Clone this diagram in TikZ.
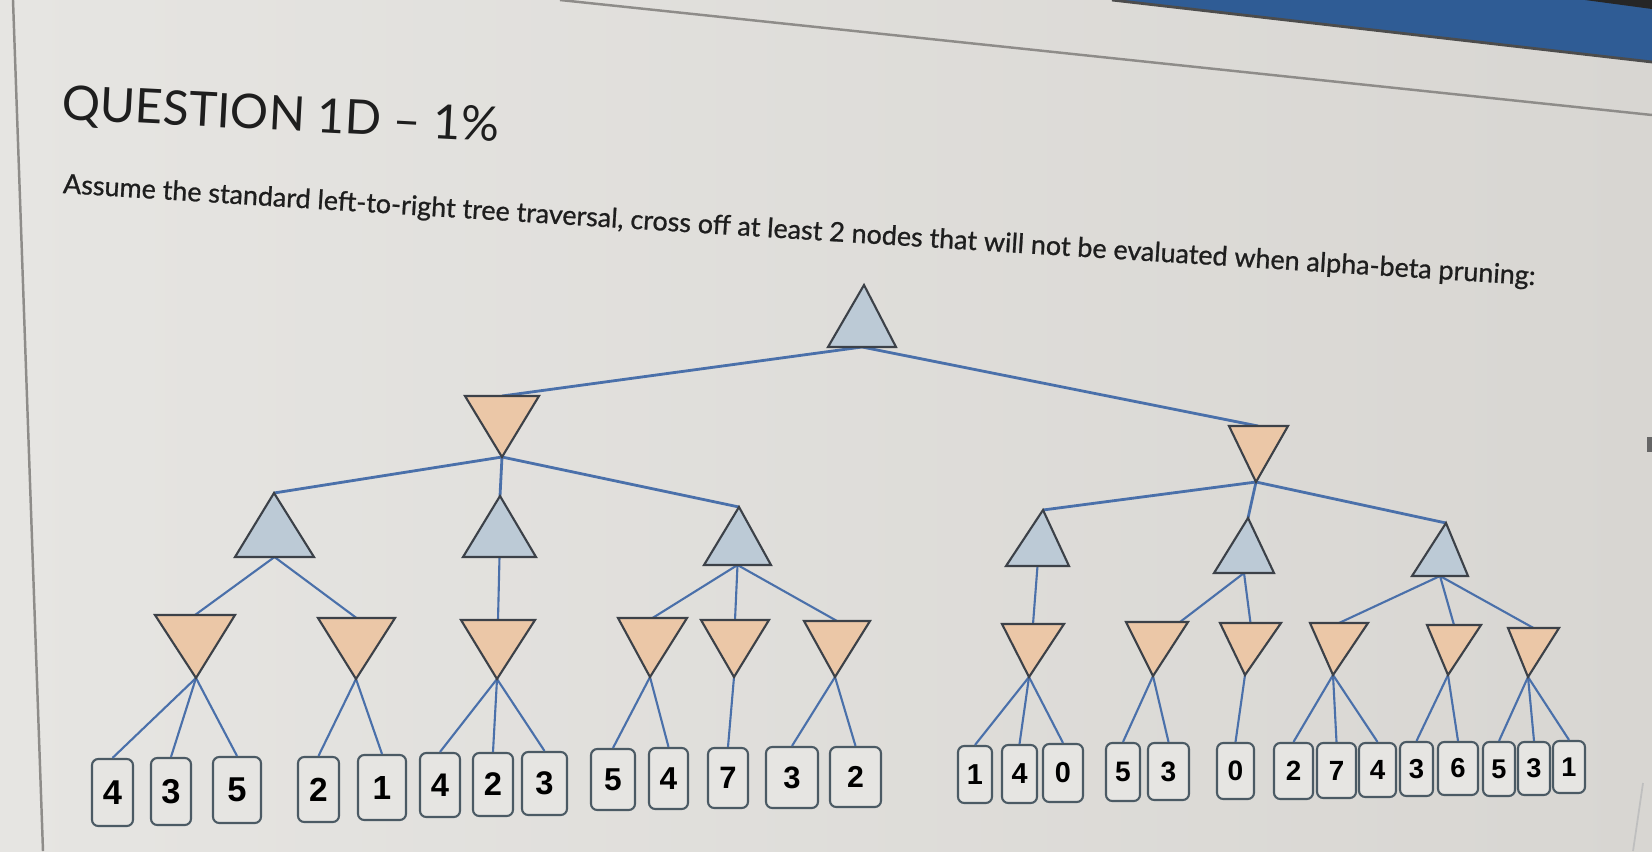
\documentclass[tikz,border=0pt]{standalone}
\usepackage{fontspec}
\usepackage{graphicx}
\newfontfamily\lato{Lato}
\newfontfamily\latosemi{Lato}[FakeBold=0.9]
\newfontfamily\digitfont{Liberation Sans}
\definecolor{bgL}{HTML}{E6E5E2}
\definecolor{bgR}{HTML}{D8D6D2}
\definecolor{edgeblue}{HTML}{4A70AA}
\definecolor{triline}{HTML}{3C4148}
\definecolor{maxfill}{HTML}{BCCAD6}
\definecolor{minfill}{HTML}{EBC7A7}
\definecolor{leafline}{HTML}{4B5A64}
\definecolor{leaffill}{HTML}{E6E5E2}
\definecolor{inktext}{HTML}{1E1E1E}
\definecolor{screenblue}{HTML}{2F5C95}
\definecolor{rimgray}{HTML}{8E8C89}
\tikzset{
  maxst/.style={draw=triline, fill=maxfill, line width=0.6pt, line join=miter},
  minst/.style={draw=triline, fill=minfill, line width=0.6pt, line join=miter},
  eup/.style={draw=edgeblue, line width=0.8pt},
  elow/.style={draw=edgeblue, line width=0.6pt},
  leafst/.style={draw=leafline, fill=leaffill, line width=0.6pt, rounded corners=1.8pt,
    inner sep=0pt, text=black, font=\digitfont\bfseries},
}
% name, apex x, apex y, base left x, base right x, base y
\newcommand\maxtri[6]{%
  \draw[maxst] (#2,#3) -- (#4,#6) -- (#5,#6) -- cycle;
}
% name, top left x, top right x, top y, apex x, apex y
\newcommand\mintri[6]{%
  \draw[minst] (#2,#4) -- (#3,#4) -- (#5,#6) -- cycle;
}
% name, x1, x2, y1, y2, font size, text
\newcommand\leafbox[7]{%
  \node[leafst, minimum width={(#3-#2)*0.1mm}, minimum height={(#5-#4)*0.1mm},
    font=\digitfont\bfseries\fontsize{#6}{#6}\selectfont]
    (#1) at ({(#2+#3)/2},{(#4+#5)/2}) {#7};
}
\begin{document}
\begin{tikzpicture}[x=0.01cm, y=-0.01cm]
\useasboundingbox (0,0) rectangle (1652,851);
\shade[left color=bgL, right color=bgR] (0,0) rectangle (1652,851);
% screen artefacts
\fill[screenblue] (1112,0) -- (1652,0) -- (1652,62) -- cycle;
\fill[black!85] (1585,0) -- (1652,0) -- (1652,9) -- cycle;
\draw[draw=black!70, line width=0.8pt] (1112,0) -- (1652,62);
\draw[draw=rimgray, line width=0.7pt] (560,0) -- (1652,115);
\draw[draw=rimgray, line width=0.7pt] (13,0) -- (43,851);
\fill[black!60] (1647,437) rectangle (1652,452);
\draw[draw=black!25, line width=0.5pt] (1643,783) -- (1633,851);

% texts
\node[anchor=base west, inner sep=0, rotate=-3, text=inktext] (title) at (61,119)
  {\resizebox{4.37cm}{!}{\lato QUESTION 1D – 1\%}};
\node[anchor=base west, inner sep=0, rotate=-3.58, text=inktext] (subtitle) at (62,193)
  {\resizebox{14.74cm}{!}{\latosemi Assume the standard left-to-right tree traversal, cross off at least 2 nodes that will not be evaluated when alpha-beta pruning:}};

% connection points of the tree shapes (shapes drawn after the connectors)
\coordinate (root-t) at (864,285); \coordinate (root-b) at (862,347);
\coordinate (L-t) at (502,396); \coordinate (L-b) at (502,457);
\coordinate (R-t) at (1258,426); \coordinate (R-b) at (1256,482);
\coordinate (a1-t) at (274,493); \coordinate (a1-b) at (274.5,557);
\coordinate (a2-t) at (500,496); \coordinate (a2-b) at (499.5,557);
\coordinate (a3-t) at (739,507); \coordinate (a3-b) at (737.5,565);
\coordinate (b1-t) at (1043,510); \coordinate (b1-b) at (1037.5,566);
\coordinate (b2-t) at (1248,518); \coordinate (b2-b) at (1244,573);
\coordinate (b3-t) at (1446,523); \coordinate (b3-b) at (1440,576);
\coordinate (m1-t) at (195,615); \coordinate (m1-b) at (196,678);
\coordinate (m2-t) at (356.5,618); \coordinate (m2-b) at (356,679);
\coordinate (m3-t) at (498,620); \coordinate (m3-b) at (497,679);
\coordinate (m4-t) at (652.5,618); \coordinate (m4-b) at (650,677);
\coordinate (m5-t) at (735,620); \coordinate (m5-b) at (734,677);
\coordinate (m6-t) at (837,621); \coordinate (m6-b) at (835,677);
\coordinate (n1-t) at (1033,624); \coordinate (n1-b) at (1029,677);
\coordinate (n2-t) at (1180,622); \coordinate (n2-b) at (1153,676);
\coordinate (n3-t) at (1250.5,623); \coordinate (n3-b) at (1245,675);
\coordinate (n4-t) at (1339,623); \coordinate (n4-b) at (1333,675);
\coordinate (n5-t) at (1454,625); \coordinate (n5-b) at (1448,675);
\coordinate (n6-t) at (1533.5,628); \coordinate (n6-b) at (1528,677);

% leaves
\leafbox{l1}{92}{133}{759}{826}{9.8pt}{4}
\leafbox{l2}{151}{191}{758}{825}{9.8pt}{3}
\leafbox{l3}{213}{261}{757}{823}{9.8pt}{5}
\leafbox{l4}{298}{339}{757}{822}{9.5pt}{2}
\leafbox{l5}{358}{406}{755}{820}{9.5pt}{1}
\leafbox{l6}{420}{460}{753}{817}{9.3pt}{4}
\leafbox{l7}{473}{513}{753}{816}{9.3pt}{2}
\leafbox{l8}{522}{567}{752}{815}{9.3pt}{3}
\leafbox{l9}{591}{635}{749}{810}{9pt}{5}
\leafbox{l10}{649}{688}{748}{809}{9pt}{4}
\leafbox{l11}{708}{748}{748}{808}{8.8pt}{7}
\leafbox{l12}{766}{818}{747}{808}{8.8pt}{3}
\leafbox{l13}{830}{881}{747}{807}{8.6pt}{2}
\leafbox{r1}{958}{992}{746}{803}{8.2pt}{1}
\leafbox{r2}{1002}{1037}{745}{803}{8.2pt}{4}
\leafbox{r3}{1043}{1083}{744}{802}{8.2pt}{0}
\leafbox{r4}{1106}{1140}{743}{801}{8pt}{5}
\leafbox{r5}{1148}{1189}{743}{800}{8pt}{3}
\leafbox{r6}{1217}{1254}{743}{799}{8pt}{0}
\leafbox{r7}{1274}{1313}{743}{799}{7.9pt}{2}
\leafbox{r8}{1317}{1356}{743}{798}{7.9pt}{7}
\leafbox{r9}{1359}{1396}{743}{797}{7.9pt}{4}
\leafbox{r10}{1400}{1433}{742}{796}{7.8pt}{3}
\leafbox{r11}{1438}{1478}{742}{795}{7.8pt}{6}
\leafbox{r12}{1483}{1515}{742}{796}{7.7pt}{5}
\leafbox{r13}{1518}{1550}{742}{795}{7.7pt}{3}
\leafbox{r14}{1553}{1585}{741}{793}{7.7pt}{1}

% connectors
\draw[eup] (root-b) -- (L-t);
\draw[eup] (root-b) -- (R-t);
\draw[eup] (L-b) -- (a1-t);
\draw[eup] (L-b) -- (a2-t);
\draw[eup] (L-b) -- (a3-t);
\draw[eup] (R-b) -- (b1-t);
\draw[eup] (R-b) -- (b2-t);
\draw[eup] (R-b) -- (b3-t);
\draw[elow] (a1-b) -- (m1-t);
\draw[elow] (a1-b) -- (m2-t);
\draw[elow] (a2-b) -- (m3-t);
\draw[elow] (a3-b) -- (m4-t);
\draw[elow] (a3-b) -- (m5-t);
\draw[elow] (a3-b) -- (m6-t);
\draw[elow] (b1-b) -- (n1-t);
\draw[elow] (b2-b) -- (n2-t);
\draw[elow] (b2-b) -- (n3-t);
\draw[elow] (b3-b) -- (n4-t);
\draw[elow] (b3-b) -- (n5-t);
\draw[elow] (b3-b) -- (n6-t);
\foreach \m/\l in {m1/l1, m1/l2, m1/l3, m2/l4, m2/l5, m3/l6, m3/l7, m3/l8,
  m4/l9, m4/l10, m5/l11, m6/l12, m6/l13,
  n1/r1, n1/r2, n1/r3, n2/r4, n2/r5, n3/r6, n4/r7, n4/r8, n4/r9,
  n5/r10, n5/r11, n6/r12, n6/r13, n6/r14}
  \draw[elow] (\m-b) -- (\l.north);

% tree shapes
\maxtri{root}{864}{285}{828}{896}{347}
\mintri{L}{465}{539}{396}{502}{457}
\mintri{R}{1229}{1288}{426}{1256}{482}
\maxtri{a1}{274}{493}{235}{314}{557}
\maxtri{a2}{500}{496}{463}{536}{557}
\maxtri{a3}{739}{507}{704}{771}{565}
\maxtri{b1}{1043}{510}{1006}{1069}{566}
\maxtri{b2}{1248}{518}{1214}{1274}{573}
\maxtri{b3}{1446}{523}{1412}{1468}{576}
\mintri{m1}{155}{235}{615}{196}{678}
\mintri{m2}{318}{395}{618}{356}{679}
\mintri{m3}{461}{535}{620}{497}{679}
\mintri{m4}{618}{687}{618}{650}{677}
\mintri{m5}{701}{769}{620}{734}{677}
\mintri{m6}{804}{870}{621}{835}{677}
\mintri{n1}{1002}{1064}{624}{1029}{677}
\mintri{n2}{1126}{1188}{622}{1153}{676}
\mintri{n3}{1220}{1281}{623}{1245}{675}
\mintri{n4}{1310}{1368}{623}{1333}{675}
\mintri{n5}{1427}{1481}{625}{1448}{675}
\mintri{n6}{1508}{1559}{628}{1528}{677}
\end{tikzpicture}
\end{document}
